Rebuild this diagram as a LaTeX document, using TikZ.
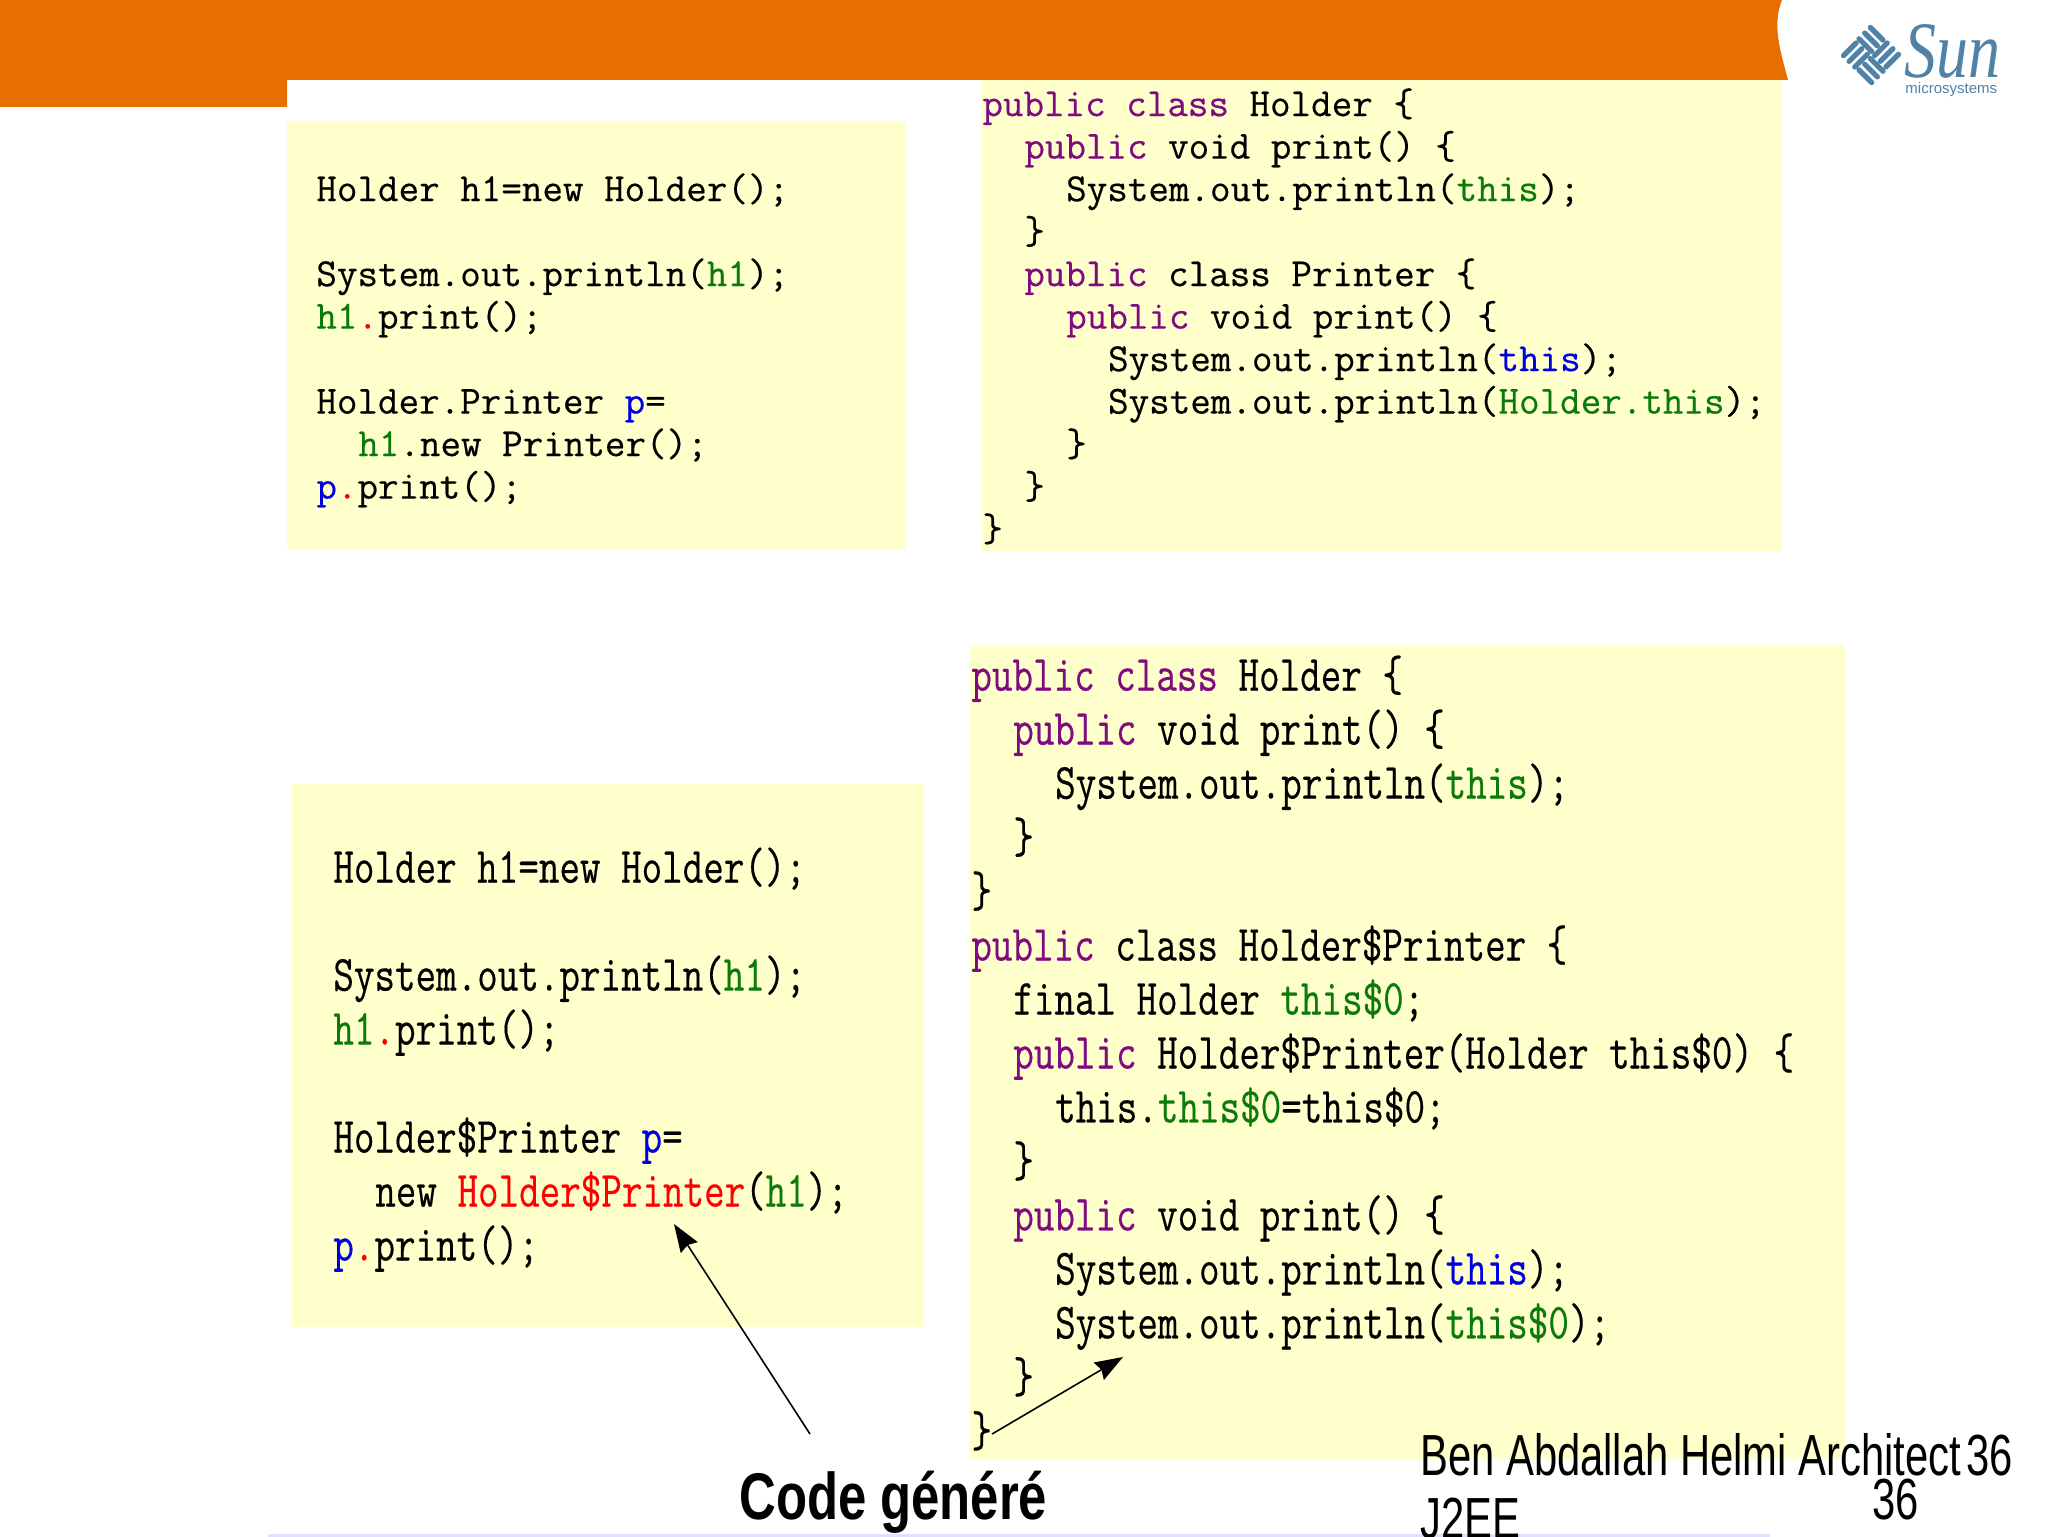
\documentclass[tikz,border=0pt]{standalone}
\usepackage{xcolor}
\usepackage{fontspec}
\setsansfont{Liberation Sans}
\newfontfamily\codefont[FakeBold=0.4]{Latin Modern Mono}
\usepackage{tikz}
\usetikzlibrary{arrows.meta}

\definecolor{barorange}{HTML}{E66F00}
\definecolor{panelyellow}{HTML}{FFFFCC}
\definecolor{sunblue}{HTML}{5082A8}
\definecolor{kwpurple}{HTML}{800A80}
\definecolor{idgreen}{HTML}{0A7A0A}
\definecolor{idblue}{HTML}{0000E0}
\newcommand{\kw}[1]{\textcolor{kwpurple}{#1}}
\newcommand{\gr}[1]{\textcolor{idgreen}{#1}}
\newcommand{\bl}[1]{\textcolor{idblue}{#1}}
\newcommand{\rd}[1]{\textcolor{red}{#1}}
\newcommand{\ii}{\hspace*{20.95pt}}

\begin{document}
\begin{tikzpicture}[x=0.5pt,y=-0.5pt,>={Stealth[length=14pt,width=10pt,inset=1.5pt]},
    panel/.style={fill=panelyellow},
    code node/.style={anchor=north west,inner sep=0pt,align=left,font=\codefont\fontsize{19.95}{21.25}\selectfont},
    tall code/.style={code node,yscale=1.27,transform shape},
    foot node/.style={anchor=base west,inner sep=0pt,font=\sffamily\fontsize{29}{29}\selectfont,xscale=.72,transform shape},
    link/.style={->,line width=.8pt}]
    \useasboundingbox (0,0) rectangle (2048,1536);
    % top bar
    \fill[barorange] (0,0) -- (1782,0) .. controls (1772,25) and (1780,50) .. (1788,80) -- (287,80) -- (287,107) -- (0,107) -- cycle;
    % panels
    \fill[panel] (287,121) rectangle (906,550);
    \fill[panel] (982,80) rectangle (1782,551);
    \fill[panel] (292,784) rectangle (924,1327);
    \fill[panel] (970,645) rectangle (1845,1459);
    \draw[color=blue!12,line width=1.5pt] (268,1535) -- (1770,1535);
    % sun logo
    \begin{scope}[shift={(1871,55)},rotate=45]
      \foreach \ang in {0,90,180,270} {
        \begin{scope}[rotate=\ang]
          \foreach \off in {3,11,19}
            \draw[sunblue,line width=2.6pt,line cap=round] (2,\off) -- (20,\off);
        \end{scope}
      }
    \end{scope}
    \node[anchor=base west,inner sep=0pt,text=sunblue,font=\fontspec{Liberation Serif}\itshape\fontsize{40}{40}\selectfont,xscale=.8,transform shape] (sunname) at (1904,78) {Sun};
    \node[anchor=base west,inner sep=0pt,text=sunblue,font=\sffamily\fontsize{7.5}{8}\selectfont] (sunsub) at (1905,94) {microsystems};
    % code
    \node[code node] (callcode) at (316,173) {Holder h1=new Holder();\\~\\System.out.println(\gr{h1});\\\gr{h1}\rd{.}print();\\~\\Holder.Printer \bl{p}=\\\ii\gr{h1}.new Printer();\\\bl{p}\rd{.}print();};
    \node[code node] (srccode) at (982,88) {\kw{public class} Holder \{\\\ii\kw{public} void print() \{\\\ii\ii System.out.println(\gr{this});\\\ii\}\\\ii\kw{public} class Printer \{\\\ii\ii\kw{public} void print() \{\\\ii\ii\ii System.out.println(\bl{this});\\\ii\ii\ii System.out.println(\gr{Holder.this});\\\ii\ii\}\\\ii\}\\\}};
    \node[tall code] (gencall) at (333,847) {Holder h1=new Holder();\\~\\System.out.println(\gr{h1});\\\gr{h1}\rd{.}print();\\~\\Holder\$Printer \bl{p}=\\\ii new \rd{Holder\$Printer}(\gr{h1});\\\bl{p}\rd{.}print();};
    \node[tall code] (gensrc) at (971,655) {\kw{public class} Holder \{\\\ii\kw{public} void print() \{\\\ii\ii System.out.println(\gr{this});\\\ii\}\\\}\\\kw{public} class Holder\$Printer \{\\\ii final Holder \gr{this\$0};\\\ii\kw{public} Holder\$Printer(Holder this\$0) \{\\\ii\ii this.\gr{this\$0}=this\$0;\\\ii\}\\\ii\kw{public} void print() \{\\\ii\ii System.out.println(\bl{this});\\\ii\ii System.out.println(\gr{this\$0});\\\ii\}\\\}};
    % labels
    \node[foot node,font=\sffamily\bfseries\fontsize{33}{33}\selectfont,xscale=1.07] (generated) at (739,1519) {Code généré};
    \node[foot node] (author) at (1420,1475) {Ben Abdallah Helmi Architect};
    \node[foot node] (pagea) at (1966,1475) {36};
    \node[foot node] (track) at (1420,1538) {J2EE};
    \node[foot node] (pageb) at (1872,1519) {36};
    % arrows
    \coordinate (genfrom) at (810,1434);
    \coordinate (gento) at (674,1224);
    \coordinate (thisfrom) at (992,1434);
    \coordinate (thisto) at (1123,1357);
    \draw[link] (genfrom) -- (gento);
    \draw[link] (thisfrom) -- (thisto);
  \end{tikzpicture}
\end{document}
